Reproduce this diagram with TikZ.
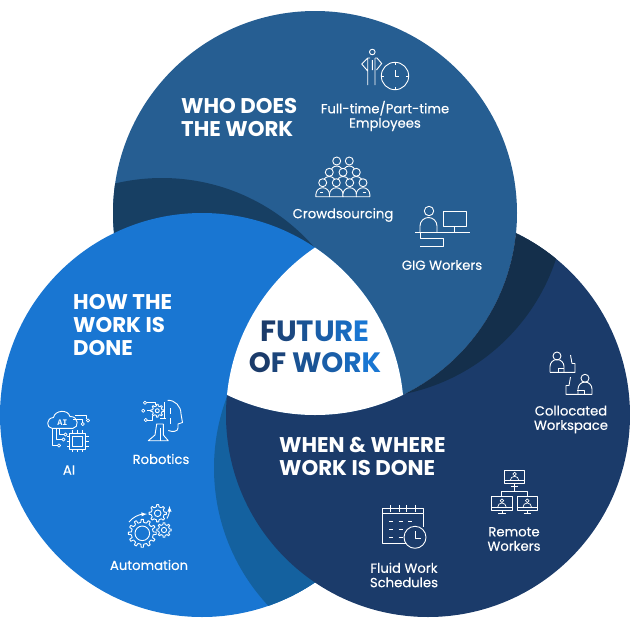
\documentclass[tikz,border=0pt]{standalone}
\usepackage{fontspec}
\setmainfont{Poppins}
\newfontfamily\chipfont{Liberation Mono}
\newfontfamily\capfont[FakeBold=0.25]{Poppins}
\definecolor{topblue}{HTML}{265E92}
\definecolor{topshade}{HTML}{173F63}
\definecolor{leftblue}{HTML}{1976D2}
\definecolor{leftshade}{HTML}{14619F}
\definecolor{navyblue}{HTML}{1B3B6A}
\definecolor{navyshade}{HTML}{142F4B}
\newcommand{\ringrad}{202pt}
\newcommand{\gradch}[2]{\textcolor{leftblue!#1!navyblue}{#2}}
\newcommand{\gearicon}[5]{%
    \begin{scope}[shift={(#1,#2)}]
        \foreach \t in {1,...,#5} {
            \pgfmathsetmacro{\ga}{360/#5*\t}
            \pgfmathsetmacro{\gw}{90/#5}
            \draw[icon] (\ga-\gw:#4) -- (\ga-0.6*\gw:#3) -- (\ga+0.6*\gw:#3) -- (\ga+\gw:#4) -- (\ga+3*\gw:#4);
        }
    \end{scope}%
}
\begin{document}
\begin{tikzpicture}[
        x=1pt, y=-1pt,
        icon/.style={draw=white, line width=0.9pt, line join=round},
        heading/.style={font=\fontsize{21.3}{23}\selectfont\bfseries, text=white, align=left, anchor=west, inner sep=0pt},
        caption/.style={font=\fontsize{13.2}{14.4}\selectfont\capfont, text=white, align=center, inner sep=0pt},
        centre/.style={font=\fontsize{28}{32}\selectfont\bfseries, align=center, inner sep=0pt},
    ]
    \useasboundingbox (0,0) rectangle (630,630);

    \coordinate (topc) at (315,213);
    \coordinate (leftc) at (202,415);
    \coordinate (rightc) at (428,415);
    \coordinate (topsh) at (162,380);
    \coordinate (leftsh) at (416,468);
    \coordinate (rightsh) at (364,196);

    \fill[topblue] (topc) circle (\ringrad);
    \begin{scope}
        \clip (topc) circle (\ringrad);
        \fill[topshade] (topsh) circle (\ringrad);
    \end{scope}
    \fill[leftblue] (leftc) circle (\ringrad);
    \begin{scope}
        \clip (leftc) circle (\ringrad);
        \fill[leftshade] (leftsh) circle (\ringrad);
    \end{scope}
    \begin{scope}[even odd rule]
        \clip (0,0) rectangle (630,630) (topc) circle (\ringrad);
        \fill[navyblue] (rightc) circle (\ringrad);
        \clip (rightc) circle (\ringrad);
        \fill[navyshade] (rightsh) circle (\ringrad);
    \end{scope}
    \begin{scope}
        \clip (topc) circle (\ringrad);
        \clip (leftc) circle (\ringrad);
        \fill[white] (rightc) circle (\ringrad);
    \end{scope}

    \node[heading] (who) at (181,117.5) {WHO DOES\\THE WORK};
    \node[heading] (how) at (73,325) {HOW THE\\WORK IS\\DONE};
    \node[heading] (when) at (279,456.5) {WHEN \& WHERE\\WORK IS DONE};

    \node[centre] (future) at (315,331) {\fontsize{29.3}{32}\selectfont\gradch{0}{F}\gradch{20}{U}\gradch{40}{T}\gradch{60}{U}\gradch{80}{R}\gradch{100}{E}};
    \node[centre] (ofwork) at (315,363) {\gradch{0}{O}\gradch{15}{F} \gradch{40}{W}\gradch{60}{O}\gradch{80}{R}\gradch{100}{K}};

    \node[caption] (staff) at (385,116) {Full-time/Part-time\\Employees};
    \node[caption] (crowd) at (343,215) {Crowdsourcing};
    \node[caption] (gig) at (442,265) {GIG Workers};
    \node[caption] (ai) at (69,470) {AI};
    \node[caption] (robot) at (161,459) {Robotics};
    \node[caption] (auto) at (149,565) {Automation};
    \node[caption] (colloc) at (571,419.5) {Collocated\\Workspace};
    \node[caption] (remote) at (514,539) {Remote\\Workers};
    \node[caption] (fluid) at (404,575) {Fluid Work\\Schedules};

    % employees
    \draw[icon] (372.3,52) circle (2.8pt);
    \draw[icon] (367.7,58) -- (361.7,64) -- (367.7,71) (367.7,58) -- (367.7,85) (375,58) -- (375,85);
    \draw[icon] (375,58) -- (377,58) -- (381.7,63.5) -- (376.5,70) (367.7,58) -- (370,58) (372.3,60) -- (372.3,70);
    \draw[icon] (395,76) circle (13.7pt);
    \draw[icon] (395,70) -- (395,76) -- (399,76);
    \draw[icon] (395,62.3) -- (395,65) (395,87) -- (395,89.7) (381.3,76) -- (384,76) (406,76) -- (408.7,76);

    % crowd
    \foreach \hx in {336.7,349.3} {
        \draw[icon] (\hx,161) circle (4pt);
        \draw[icon] (\hx-6,172) arc[start angle=180, end angle=360, radius=6];
    }
    \foreach \hx in {329.3,343,356.3} {
        \draw[icon, fill=topblue] (\hx,172.3) circle (4pt);
        \draw[icon] (\hx-6.5,183) arc[start angle=180, end angle=360, radius=6.5];
    }
    \foreach \hx in {322.7,336.3,349.7,363} {
        \draw[icon, fill=topblue] (\hx,182.7) circle (4pt);
        \draw[icon, fill=topblue] (\hx-6.8,196.7) -- (\hx-6.8,194.5) arc[start angle=180, end angle=360, radius=6.8] -- (\hx+6.8,196.7) -- cycle;
    }
    \draw[icon] (320,192.5) -- (323,192.5) (362.5,192.5) -- (365.5,192.5);

    % gig
    \draw[icon] (429,211) circle (4.7pt);
    \draw[icon] (420,232.7) -- (420,226) arc[start angle=180, end angle=360, radius=8.5] -- (437,232);
    \draw[icon] (415,232.7) -- (470,232.7);
    \draw[icon] (443.3,211.7) rectangle (466,226.7);
    \draw[icon] (454.7,226.7) -- (454.7,232.7);
    \draw[icon] (420,232.7) -- (420,238) -- (443.3,238) -- (443.3,246.7) -- (420,246.7);

    % ai
    \draw[icon] (52,428.3) .. controls (46,428) and (46,418) .. (53.5,417.5)
        .. controls (55,410) and (68,409) .. (70,416.5)
        .. controls (79,416) and (79,428) .. (73,428.3) -- cycle;
    \node[font=\chipfont\bfseries\fontsize{8.5}{8.5}\selectfont, text=white, inner sep=0pt] (aitext) at (62.5,422.5) {AI};
    \draw[icon, line width=0.7pt] (75,415) -- (86.7,415) -- (86.7,418.5) (73,419.3) -- (82.7,419.3) -- (82.7,422.5);
    \draw[icon, line width=0.7pt] (88,420.5) circle (1.6pt) (82.7,424) circle (1.6pt);
    \draw[icon, line width=0.7pt] (52.7,428.3) -- (52.7,445) -- (57.5,445) (56,428.3) -- (56,439.5) -- (62,439.5) (59.3,428.3) -- (59.3,434.5) -- (64,434.5);
    \draw[icon, line width=0.7pt] (59,445.5) circle (1.6pt) (63.5,439.5) circle (1.6pt) (65.5,434.5) circle (1.6pt);
    \draw[icon] (69.7,433) rectangle (85.7,449);
    \draw[icon] (72.7,436) rectangle (82.7,446);
    \foreach \p in {-5,0,5} {
        \draw[icon, line width=0.7pt] (77.7+\p,433) -- (77.7+\p,430) (77.7+\p,449) -- (77.7+\p,452);
        \draw[icon, line width=0.7pt] (69.7,441+\p) -- (66.7,441+\p) (85.7,441+\p) -- (88.7,441+\p);
    }

    % robotics
    \draw[icon] (167.7,400.3) .. controls (175,400) and (181,406) .. (181,414)
        -- (182.5,422.5) -- (178,424) -- (178,428) .. controls (178,432) and (172,432) .. (168.3,430.5);
    \gearicon{157.3}{410.7}{6.5}{4.8}{8}
    \draw[icon] (157.3,410.7) circle (2pt);
    \foreach \wy/\ex/\ey in {402.7/155/404.5, 410.7/151/410.7, 420/152/416} {
        \draw[icon, line width=0.7pt] (147,\wy) -- (\ex,\wy) -- (\ex,\ey);
    }
    \draw[icon, line width=0.7pt] (145,402.7) circle (1.6pt) (143.3,410.7) circle (1.6pt) (145.7,420) circle (1.6pt);
    \draw[icon] (156.7,424) -- (155,435) -- (148.3,440.7) -- (168.3,440.7) -- (163.3,435) -- (163.3,424) -- cycle;
    \draw[icon, line width=0.7pt] (160,428) -- (160,440.7) (160,418) -- (166,418) (164,402) -- (164,418) (170,408) -- (170,414) (170,418) -- (170,424);

    % automation
    \gearicon{142.3}{533.3}{14}{11}{12}
    \draw[icon] (142.3,533.3) circle (7.3pt);
    \gearicon{157.7}{513.3}{8.7}{6.6}{8}
    \draw[icon] (157.7,513.3) circle (3.3pt);
    \gearicon{164}{530}{7.3}{5.5}{8}
    \draw[icon] (164,530) circle (2.6pt);
    \draw[icon, -latex] (129,522) .. controls (133,517) and (139,514.5) .. (147,514);
    \draw[icon, -latex] (167,518.5) .. controls (169,515) and (169.5,511) .. (169.5,506);

    % collocated
    \draw[icon] (557,356) circle (4pt);
    \draw[icon] (550,372.3) -- (550,366.5) arc[start angle=180, end angle=360, radius=7] -- (564,372.3);
    \draw[icon] (550,372.3) -- (575,372.3) -- (575,363.5) -- (572,363.5) -- (570.5,355);
    \draw[icon] (558,368.5) -- (564,368.5) (558,368.5) -- (558,372.3);
    \draw[icon] (585,378.3) circle (4pt);
    \draw[icon] (578,394.3) -- (578,389) arc[start angle=180, end angle=360, radius=7] -- (592,394.3);
    \draw[icon] (592,394.3) -- (566,394.3) -- (566,385.5) -- (569,385.5) -- (570.5,377);
    \draw[icon] (577,390.5) -- (584,390.5) -- (584,394.3);

    % remote
    \foreach \mx/\my in {504.3/470, 491.7/496.7, 517/496.7} {
        \draw[icon] (\mx,\my) rectangle (\mx+20.5,\my+13.3);
        \draw[icon] (\mx,\my+10.5) -- (\mx+20.5,\my+10.5);
        \draw[icon, line width=0.7pt] (\mx+10.25,\my+4) circle (1.8pt);
        \draw[icon, line width=0.7pt] (\mx+6,\my+10.5) arc[start angle=180, end angle=360, radius=4.25];
        \draw[icon] (\mx+10.25,\my+13.3) -- (\mx+10.25,\my+16) (\mx+6.5,\my+16.5) -- (\mx+14,\my+16.5);
    }
    \draw[icon, line width=0.7pt] (514.7,486.8) -- (514.7,491.7) (501.7,496) -- (501.7,491.7) -- (527.3,491.7) -- (527.3,496);

    % calendar
    \draw[icon] (415,543.3) -- (382.3,543.3) -- (382.3,513.3) -- (423.3,513.3) -- (423.3,527);
    \draw[icon] (382.3,513.3) -- (382.3,508.3) -- (423.3,508.3) -- (423.3,513.3);
    \foreach \cx in {390.7,399.3,406.7,415} {
        \draw[icon] (\cx,505) -- (\cx,511.5);
    }
    \foreach \cy in {521,529,537} {
        \draw[icon] (389,\cy) -- (393,\cy);
    }
    \foreach \cy in {521,529} {
        \draw[icon] (398.5,\cy) -- (402.5,\cy) (408,\cy) -- (412,\cy);
    }
    \draw[icon] (398.5,537) -- (402.5,537);
    \draw[icon, fill=navyblue] (415,537.3) circle (11pt);
    \draw[icon] (415,531) -- (415,538) -- (421,538);
\end{tikzpicture}
\end{document}
